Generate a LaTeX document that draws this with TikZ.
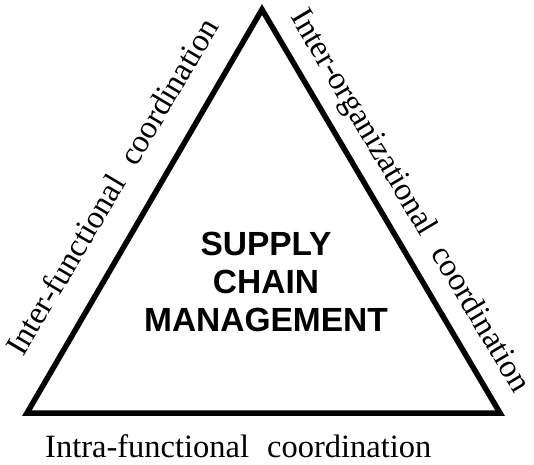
\documentclass[tikz,border=0pt]{standalone}
\usepackage{fontspec}
\setmainfont{Liberation Serif}
\setsansfont{Liberation Sans}
\begin{document}
\begin{tikzpicture}[x=1pt,y=-1pt,
  side/.style={font=\fontsize{32.5}{38}\selectfont, inner sep=0pt, anchor=base west,
    execute at begin node={\spaceskip=18pt\relax}},
  title/.style={font=\sffamily\bfseries\fontsize{33.5}{38}\selectfont, align=center, inner sep=0pt},
  edge/.style={line width=5.5pt, line join=miter}]
\useasboundingbox (0,0) rectangle (534,464);
\coordinate (T) at (262,9.5);
\coordinate (L) at (27,413);
\coordinate (R) at (500,413);
\draw[edge] (T) -- (L) -- (R) -- cycle;
\node[title, anchor=center] (scm) at (266,281.5) {SUPPLY\\CHAIN\\MANAGEMENT};
\node[side, rotate=59.3] (left) at (23,358) {Inter-functional coordination};
\node[side, rotate=-59.3] (right) at (290,16.7) {Inter-organizational coordination};
\node[side] (bottom) at (45,457) {Intra-functional coordination};
\end{tikzpicture}
\end{document}
